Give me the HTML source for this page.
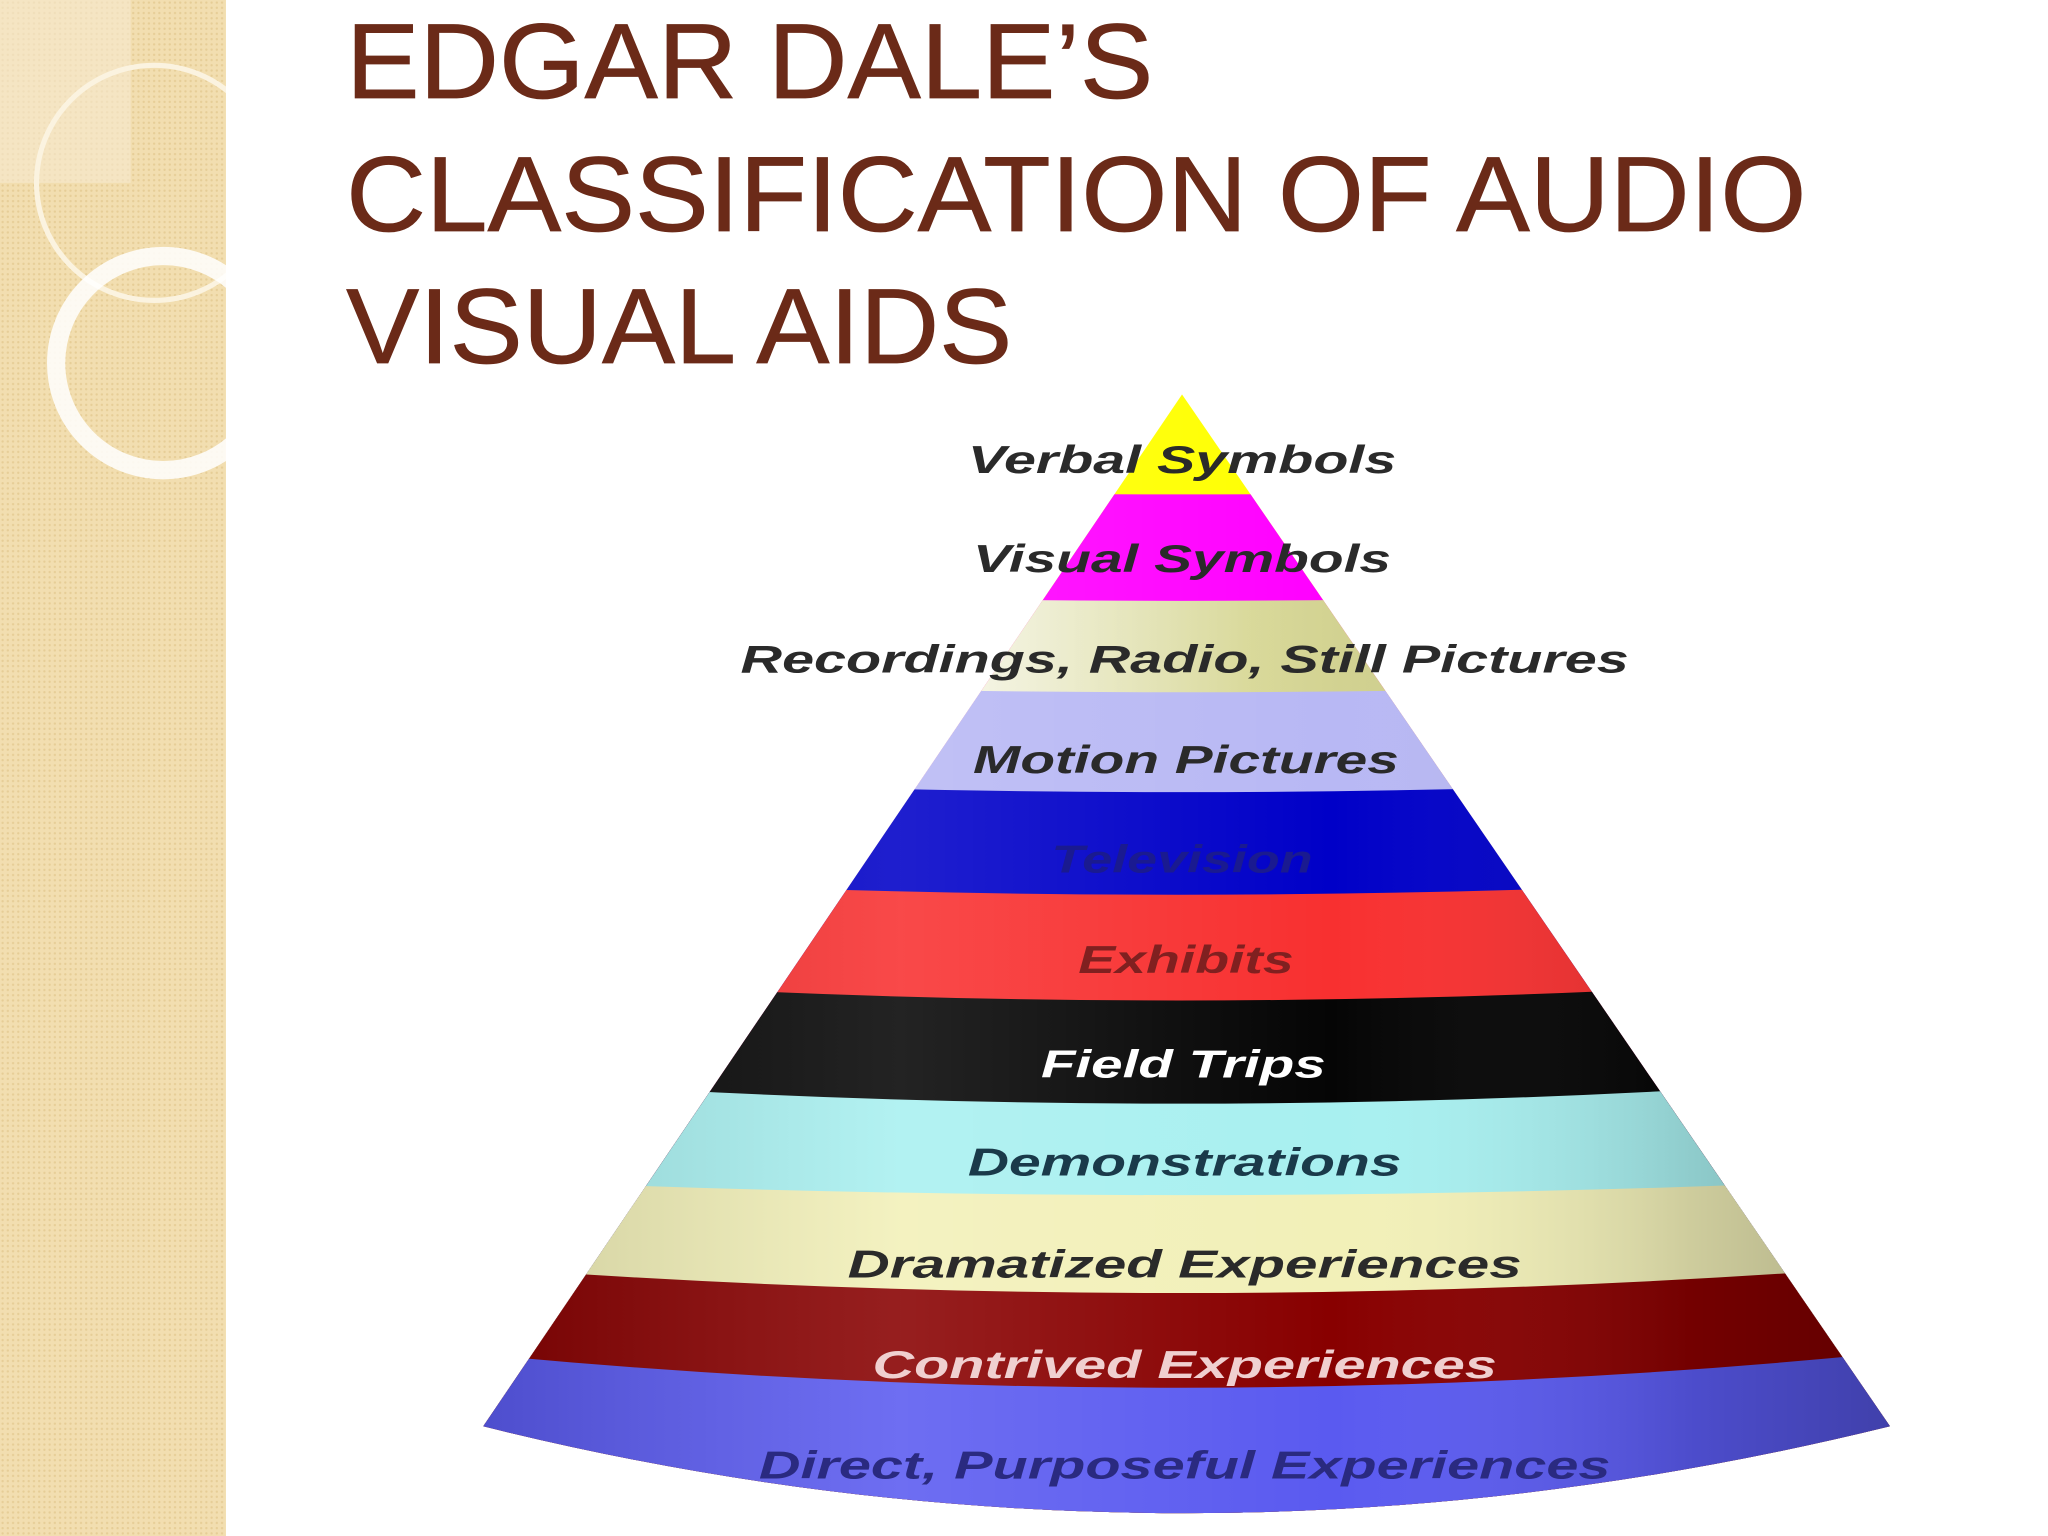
<!DOCTYPE html>
<html><head><style>html,body{margin:0;padding:0;background:#fff;width:2048px;height:1536px;overflow:hidden}svg{display:block}</style></head><body>
<svg width="2048" height="1536" viewBox="0 0 1568 1176" preserveAspectRatio="none" xmlns="http://www.w3.org/2000/svg">
<defs>
<pattern id="dots" width="4" height="4" patternUnits="userSpaceOnUse"><rect width="4" height="4" fill="#f2deb0"/><circle cx="2" cy="2" r="0.9" fill="#e6cd96"/></pattern>
<clipPath id="cone"><path d="M905,302 L1447,1092 Q905,1225 370,1092 Z"/></clipPath>
<clipPath id="panel"><rect x="0" y="0" width="173" height="1176"/></clipPath>
<linearGradient id="shade" x1="0" x2="1" y1="0" y2="0">
<stop offset="0" stop-color="#000" stop-opacity="0.15"/>
<stop offset="0.3" stop-color="#fff" stop-opacity="0.12"/>
<stop offset="0.6" stop-color="#fff" stop-opacity="0"/>
<stop offset="0.85" stop-color="#000" stop-opacity="0.15"/>
<stop offset="1" stop-color="#000" stop-opacity="0.3"/>
</linearGradient>
<linearGradient id="khaki" x1="0" x2="1"><stop offset="0.3" stop-color="#ffffff"/><stop offset="0.55" stop-color="#d8d898"/><stop offset="1" stop-color="#a8a860"/></linearGradient>
</defs>
<rect width="1568" height="1176" fill="#fff"/>
<rect x="0" y="0" width="173" height="1176" fill="url(#dots)"/>
<g clip-path="url(#panel)" fill="none">
<rect x="0" y="0" width="100" height="140" fill="#f7ead0" opacity="0.6"/>
<circle cx="118" cy="140" r="90" stroke="#fbf3e0" stroke-width="4"/>
<circle cx="125" cy="278" r="82" stroke="#ffffff" stroke-width="14" opacity="0.85"/>
</g>
<g font-family="'Liberation Sans Narrow','Liberation Sans',sans-serif" font-size="82" fill="#6b2a18" stroke="#6b2a18" stroke-width="0.6">
<text x="265" y="75" textLength="618" lengthAdjust="spacingAndGlyphs">EDGAR DALE’S</text>
<text x="265" y="177" textLength="1118" lengthAdjust="spacingAndGlyphs">CLASSIFICATION OF AUDIO</text>
<text x="265" y="278" textLength="510" lengthAdjust="spacingAndGlyphs">VISUAL AIDS</text>
</g>
<g clip-path="url(#cone)">
<rect x="300" y="290" width="1200" height="950" fill="#ffff00"/>
<path d="M300,372 Q905,385 1500,372 L1500,1240 L300,1240Z" fill="#ff00ff"/>
<path d="M300,445 Q905,475 1500,445 L1500,1240 L300,1240Z" fill="url(#khaki)"/>
<path d="M300,515 Q905,545 1500,515 L1500,1240 L300,1240Z" fill="#b8b8f4"/>
<path d="M300,588 Q905,625 1500,588 L1500,1240 L300,1240Z" fill="#0000c8"/>
<path d="M300,665 Q905,705 1500,665 L1500,1240 L300,1240Z" fill="#f83030"/>
<path d="M300,742 Q905,790 1500,742 L1500,1240 L300,1240Z" fill="#050505"/>
<path d="M300,820 Q905,870 1500,820 L1500,1240 L300,1240Z" fill="#a8f0f0"/>
<path d="M300,900 Q905,930 1500,900 L1500,1240 L300,1240Z" fill="#f2f0b8"/>
<path d="M300,965 Q905,1015 1500,965 L1500,1240 L300,1240Z" fill="#880000"/>
<path d="M300,1030 Q905,1095 1500,1030 L1500,1240 L300,1240Z" fill="#5a5af0"/>
<rect x="360" y="290" width="1100" height="950" fill="url(#shade)"/>
</g>
<g font-family="'Liberation Sans',sans-serif" font-style="italic" font-weight="bold" font-size="30" text-anchor="middle" fill="#2a2a2a">
<text x="905" y="362" textLength="328" lengthAdjust="spacingAndGlyphs">Verbal Symbols</text>
<text x="905" y="438" textLength="320" lengthAdjust="spacingAndGlyphs">Visual Symbols</text>
<text x="907" y="515" textLength="680" lengthAdjust="spacingAndGlyphs">Recordings, Radio, Still Pictures</text>
<text x="908" y="592" textLength="326" lengthAdjust="spacingAndGlyphs">Motion Pictures</text>
<text x="905" y="668" fill="#1a1a90" textLength="200" lengthAdjust="spacingAndGlyphs">Television</text>
<text x="908" y="745" fill="#802020" textLength="165" lengthAdjust="spacingAndGlyphs">Exhibits</text>
<text x="906" y="825" fill="#ffffff" textLength="218" lengthAdjust="spacingAndGlyphs">Field Trips</text>
<text x="907" y="900" fill="#1a3a4a" textLength="332" lengthAdjust="spacingAndGlyphs">Demonstrations</text>
<text x="907" y="978" textLength="516" lengthAdjust="spacingAndGlyphs">Dramatized Experiences</text>
<text x="907" y="1055" fill="#f0d0d0" textLength="478" lengthAdjust="spacingAndGlyphs">Contrived Experiences</text>
<text x="907" y="1132" fill="#2a2a80" textLength="652" lengthAdjust="spacingAndGlyphs">Direct, Purposeful Experiences</text>
</g>
</svg>
</body></html>
